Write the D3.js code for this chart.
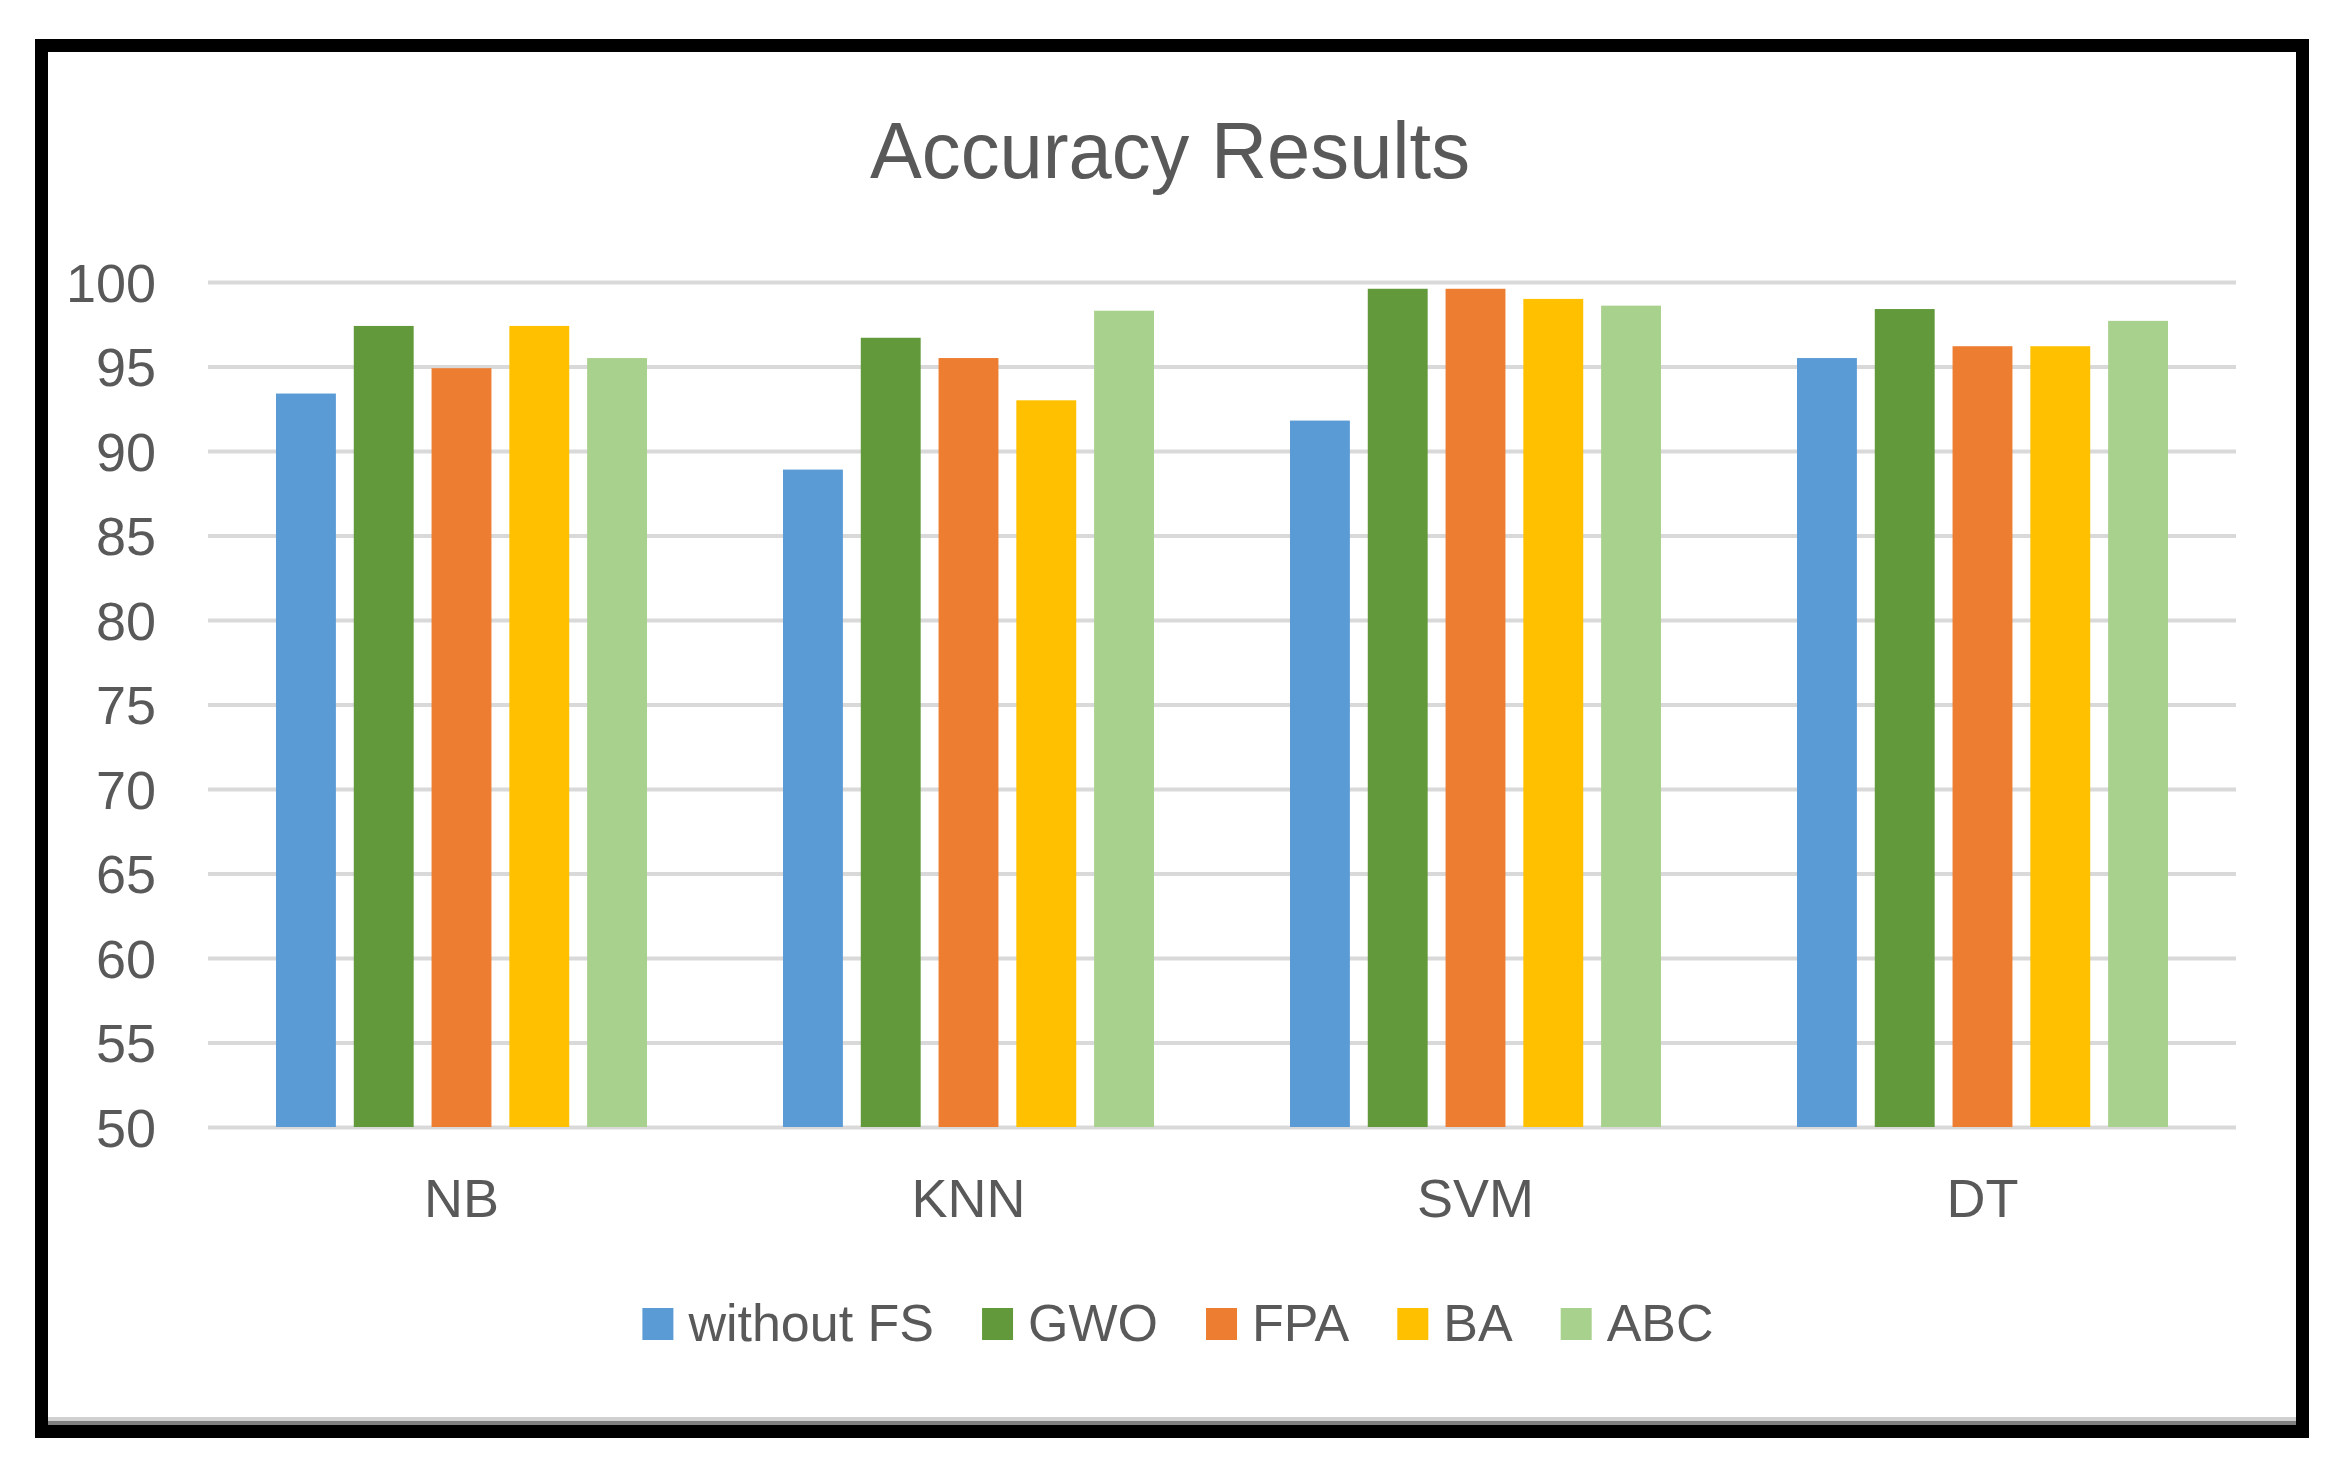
<!DOCTYPE html>
<html>
<head>
<meta charset="utf-8">
<script src="https://cdn.jsdelivr.net/npm/d3@7"></script>
<style>
    body { margin: 0; background: #fff; }
    text { font-family: "Liberation Sans Narrow", "Liberation Sans", Arial, sans-serif; fill: #595959; }
</style>
</head>
<body>
<div id="chart"></div>
<script>
// data
var categories = ['NB', 'KNN', 'SVM', 'DT'];
var seriesNames = ['without FS', 'GWO', 'FPA', 'BA', 'ABC'];
var seriesColors = ['#5b9bd5', '#62993b', '#ed7d31', '#ffc000', '#a9d18e'];
var withoutFS = [93.4, 88.9, 91.8, 95.5];
var gwo = [97.4, 96.7, 99.6, 98.4];
var fpa = [94.9, 95.5, 99.6, 96.2];
var ba = [97.4, 93.0, 99.0, 96.2];
var abc = [95.5, 98.3, 98.6, 97.7];
var yTicks = [50, 55, 60, 65, 70, 75, 80, 85, 90, 95, 100];
var titleText = 'Accuracy Results';

var allSeries = [withoutFS, gwo, fpa, ba, abc];

var W = 2347, H = 1470;
var plot = {left: 208, right: 2236, top: 282, bottom: 1127};

var svg = d3.select('#chart').append('svg')
    .attr('width', W)
    .attr('height', H);

// frame
svg.append('rect')
    .attr('x', 41.5).attr('y', 45.5)
    .attr('width', 2261).attr('height', 1386)
    .attr('fill', '#fff')
    .attr('stroke', '#000')
    .attr('stroke-width', 13);
svg.append('rect')
    .attr('x', 48).attr('y', 1417)
    .attr('width', 2248).attr('height', 4)
    .attr('fill', '#d0d0d0');
svg.append('rect')
    .attr('x', 48).attr('y', 1421)
    .attr('width', 2248).attr('height', 4)
    .attr('fill', '#808080');

// title
svg.append('text')
    .attr('x', 1170).attr('y', 178)
    .attr('text-anchor', 'middle')
    .style('font-size', '80px')
    .attr('textLength', 600)
    .attr('lengthAdjust', 'spacingAndGlyphs')
    .text(titleText);

// scales
var x0 = d3.scaleBand()
    .domain(categories)
    .range([plot.left, plot.right])
    .padding(0);

var groupPad = 68;
var x1 = d3.scaleBand()
    .domain(d3.range(seriesNames.length))
    .range([groupPad, x0.bandwidth() - groupPad])
    .paddingInner(0.23)
    .paddingOuter(0);

var y = d3.scaleLinear()
    .domain([50, 100])
    .range([plot.bottom, plot.top]);

// gridlines
var grid = svg.append('g')
    .attr('transform', 'translate(' + plot.left + ',0)')
    .call(d3.axisLeft(y).tickValues(yTicks).tickSize(-(plot.right - plot.left)).tickFormat(''));
grid.select('.domain').remove();
grid.selectAll('line').attr('stroke', '#d9d9d9').attr('stroke-width', 4);

// y axis labels
var yAxis = svg.append('g')
    .attr('transform', 'translate(' + plot.left + ',0)')
    .call(d3.axisLeft(y).tickValues(yTicks).tickSize(0).tickPadding(52));
yAxis.select('.domain').remove();
yAxis.selectAll('text')
    .attr('font-family', null)
    .style('font-size', '54px')
    .attr('dy', '0.36em');

// bars
var groups = svg.selectAll('.cat')
    .data(categories).enter().append('g')
    .attr('class', 'cat')
    .attr('transform', function(d){ return 'translate(' + x0(d) + ',0)'; });

groups.selectAll('rect')
    .data(function(d, ci){
        return allSeries.map(function(s, si){ return {si: si, v: s[ci]}; });
    })
    .enter().append('rect')
    .attr('x', function(d){ return x1(d.si); })
    .attr('width', x1.bandwidth())
    .attr('y', function(d){ return y(d.v); })
    .attr('height', function(d){ return y(50) - y(d.v); })
    .attr('fill', function(d){ return seriesColors[d.si]; });

// x axis labels
var xAxis = svg.append('g')
    .attr('transform', 'translate(0,' + plot.bottom + ')')
    .call(d3.axisBottom(x0).tickSize(0).tickPadding(52));
xAxis.select('.domain').remove();
xAxis.selectAll('text')
    .attr('font-family', null)
    .style('font-size', '54px')
    .attr('dy', '0.71em');

// legend
var legend = svg.append('g').attr('class', 'legend');
var items = legend.selectAll('g')
    .data(seriesNames).enter().append('g');
items.append('rect')
    .attr('width', 31).attr('height', 32)
    .attr('y', -33)
    .attr('fill', function(d, i){ return seriesColors[i]; });
items.append('text')
    .attr('x', 46)
    .style('font-size', '52px')
    .text(function(d){ return d; });

var pos = 0;
items.each(function(d){
    var g = d3.select(this);
    var tw = g.select('text').node().getComputedTextLength();
    g.attr('data-x', pos);
    pos += 46 + tw + 48;
});
var legendW = pos - 48;
var legendX = 1178 - legendW / 2;
items.attr('transform', function(){
    return 'translate(' + (legendX + (+d3.select(this).attr('data-x'))) + ',1341)';
});
</script>
</body>
</html>
